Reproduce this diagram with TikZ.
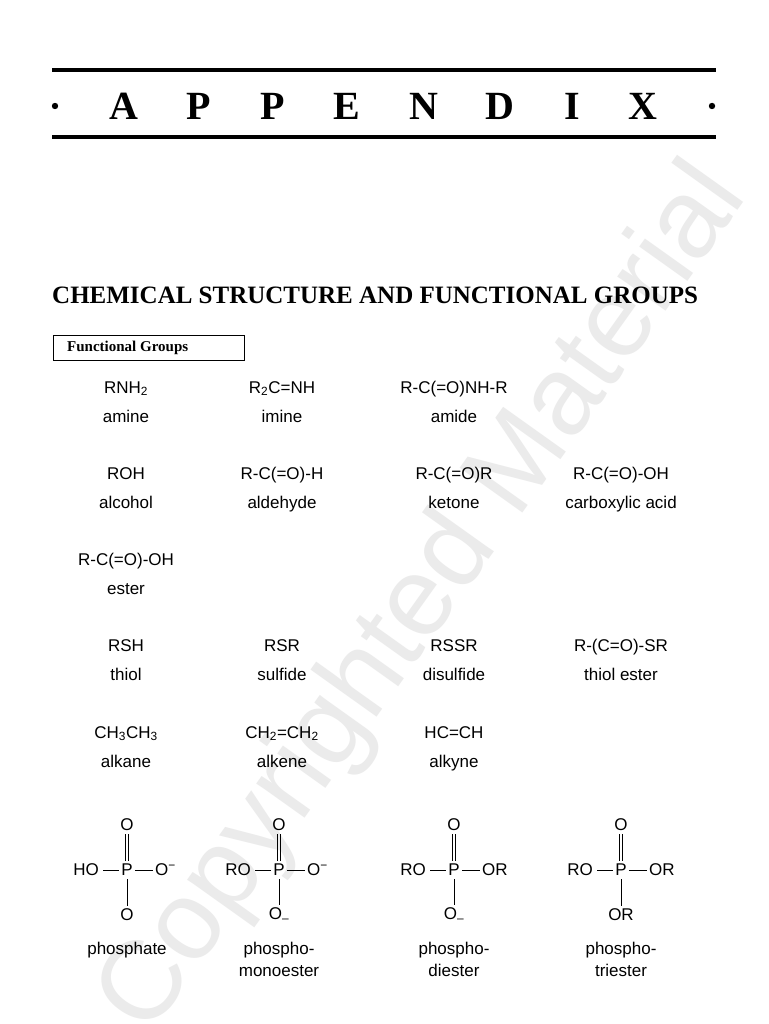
\documentclass[tikz,border=0pt]{standalone}
\usepackage{fontspec}
\setmainfont{Liberation Sans}
\newfontfamily\serifb{Liberation Serif}
\begin{document}
\begin{tikzpicture}[x=1pt,y=-1pt,
  lbl/.style={font=\fontsize{17}{19}\selectfont, inner sep=0pt, anchor=base},
  rule/.style={line width=3.5pt},
  bond/.style={line width=0.8pt}]
\useasboundingbox (0,0) rectangle (768,1024);
\fill[white] (0,0) rectangle (768,1024);
% watermark
\node[text=black!8, rotate=54.5, font=\fontsize{112}{112}\selectfont] (wm) at (425,600) {Copyrighted Material};
% header
\draw[rule] (52,70) -- (716,70);
\draw[rule] (52,137) -- (716,137);
\foreach \x/\c [count=\i] in {124/A,199/P,273/P,347/E,424/N,500/D,572/I,643/X}
  \node[font=\serifb\bfseries\fontsize{40}{40}\selectfont, anchor=base, inner sep=0pt] (h\i) at (\x,120) {\c};
\fill (55,106) circle (3.2pt) coordinate (dl);
\fill (712,106) circle (3.2pt) coordinate (dr);
\node[font=\serifb\bfseries\fontsize{25}{26}\selectfont, anchor=base west, inner sep=0pt] (title) at (52,303) {CHEMICAL STRUCTURE AND FUNCTIONAL GROUPS};
\node[draw, line width=0.8pt, minimum width=191pt, minimum height=25pt, inner sep=0pt] (fgbox) at (148.5,347.5) {};
\node[font=\serifb\bfseries\fontsize{15}{15}\selectfont, anchor=west, inner sep=0pt] (fg) at (67,347.5) {Functional Groups};
% groups
\foreach \x/\y/\f/\n [count=\k] in {
 126/387/RNH\textsubscript{2}/amine, 282/387/R\textsubscript{2}C=NH/imine, 454/387/R-C(=O)NH-R/amide,
 126/473/ROH/alcohol, 282/473/R-C(=O)-H/aldehyde, 454/473/R-C(=O)R/ketone, 621/473/R-C(=O)-OH/carboxylic acid,
 126/559/R-C(=O)-OH/ester,
 126/645/RSH/thiol, 282/645/RSR/sulfide, 454/645/RSSR/disulfide, 621/645/R-(C=O)-SR/thiol ester,
 126/732/CH\textsubscript{3}CH\textsubscript{3}/alkane, 282/732/CH\textsubscript{2}=CH\textsubscript{2}/alkene, 454/732/HC=CH/alkyne}
{
 \node[lbl] (f\k) at (\x,\y+6) {\f};
 \node[lbl] (n\k) at (\x,\y+35) {\n};
}
% phosphates
\foreach \px/\L/\Rt/\B/\na/\nb [count=\k] in {
 127/HO/O\textsuperscript{−}/O/phosphate/,
 279/RO/O\textsuperscript{−}/O\textsubscript{–}/phospho-/monoester,
 454/RO/OR/O\textsubscript{–}/phospho-/diester,
 621/RO/OR/OR/phospho-/triester}
{
 \node[lbl, anchor=center] (P\k) at (\px,870) {P};
 \node[lbl, anchor=center] (Ot\k) at (\px,825) {O};
 \node[lbl, anchor=center] (Ob\k) at (\px,915) {\B};
 \node[lbl, anchor=east] (L\k) at (\px-28,870) {\L};
 \node[lbl, anchor=west] (R\k) at (\px+28,870) {\Rt};
 \draw[bond] ([xshift=-1.6pt,yshift=-3pt]Ot\k.south) -- ([xshift=-1.6pt,yshift=3pt]P\k.north);
 \draw[bond] ([xshift=1.6pt,yshift=-3pt]Ot\k.south) -- ([xshift=1.6pt,yshift=3pt]P\k.north);
 \draw[bond] ([yshift=-3pt]P\k.south) -- ([yshift=3pt]Ob\k.north);
 \draw[bond] ([xshift=4pt]L\k.east) -- ([xshift=-2pt]P\k.west);
 \draw[bond] ([xshift=2pt]P\k.east) -- ([xshift=-2pt]R\k.west);
 \node[lbl] (na\k) at (\px,954) {\na};
 \node[lbl] (nb\k) at (\px,976) {\nb};
}
\end{tikzpicture}
\end{document}
